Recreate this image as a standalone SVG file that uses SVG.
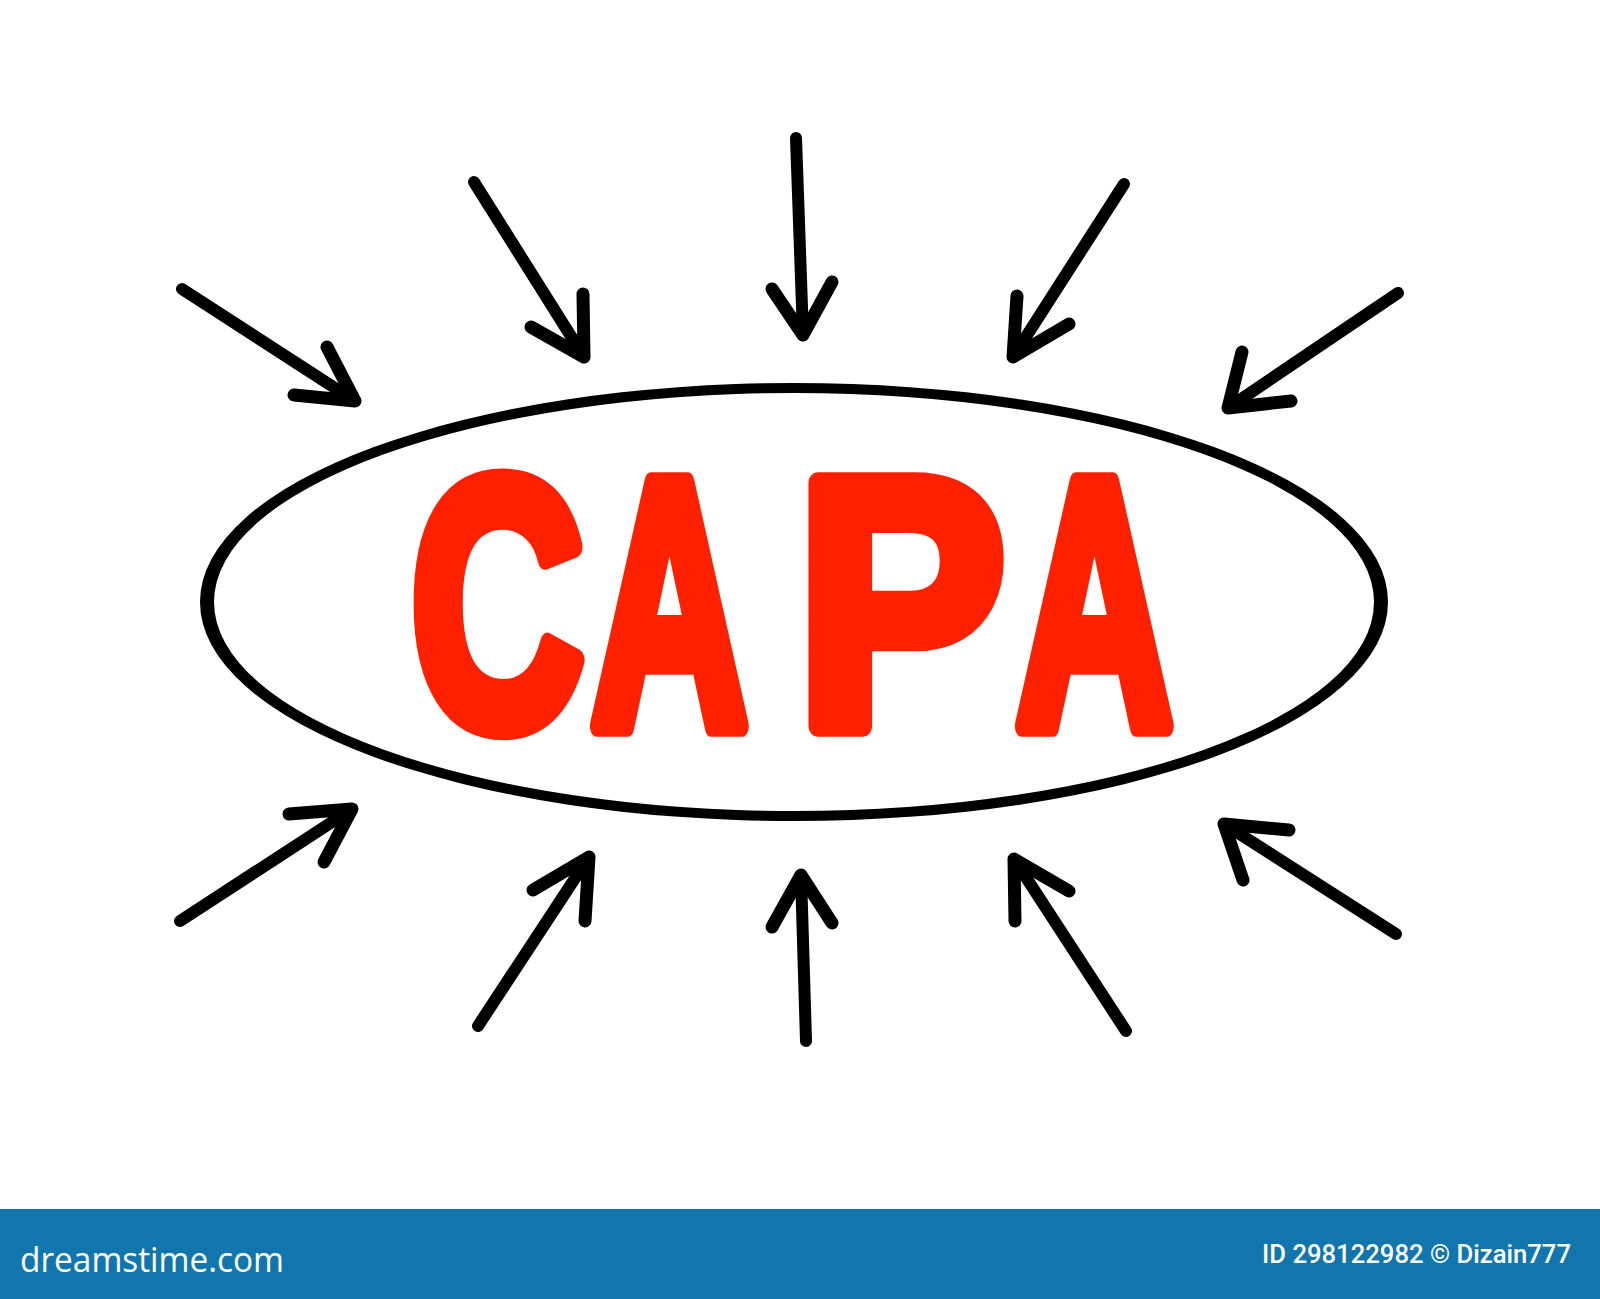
<svg xmlns="http://www.w3.org/2000/svg" width="1600" height="1299" viewBox="0 0 1600 1299">
<style>
.arr{fill:none;stroke:#000;stroke-width:12;stroke-linecap:round;stroke-linejoin:round}
.head{fill:none;stroke:#000;stroke-width:13;stroke-linecap:round;stroke-linejoin:round}
.capa{font-family:"Liberation Sans",Arial,sans-serif;font-weight:bold;fill:#FF2000;stroke:#FF2000;stroke-width:16;stroke-linejoin:round}
.foot{fill:#fff}
</style>
<rect width="1600" height="1299" fill="#fff"/>
<g id="ellipse-node">
<path fill="#000" fill-rule="evenodd" d="M200,602 A594,219 0 1,0 1388,602 A594,219 0 1,0 200,602 Z M214,602 A580,209 0 1,0 1374,602 A580,209 0 1,0 214,602 Z"/>
<text class="capa" font-size="266" transform="matrix(1 0 0 1.33 0 0)"><tspan x="411" y="546" textLength="173" lengthAdjust="spacingAndGlyphs">C</tspan><tspan x="591" y="546" textLength="157" lengthAdjust="spacingAndGlyphs">A</tspan><tspan x="797" y="546" textLength="208" lengthAdjust="spacingAndGlyphs">P</tspan><tspan x="1016" y="546" textLength="157" lengthAdjust="spacingAndGlyphs">A</tspan></text>
</g>
<g id="connectors">
<g id="a1"><path class="arr" d="M182,289 L355,401"/><path class="head" d="M294,395 L355,401 L327,347"/></g>
<g id="a2"><path class="arr" d="M474,182 L584,357"/><path class="head" d="M531,327 L584,357 L583,294"/></g>
<g id="a3"><path class="arr" d="M796,138 L803,335"/><path class="head" d="M772,289 L803,335 L832,282"/></g>
<g id="a4"><path class="arr" d="M1124,184 L1013,357"/><path class="head" d="M1017,296 L1013,357 L1069,324"/></g>
<g id="a5"><path class="arr" d="M1398,293 L1228,408"/><path class="head" d="M1242,352 L1228,408 L1291,401"/></g>
<g id="a6"><path class="arr" d="M180,921 L352,809"/><path class="head" d="M289,814 L352,809 L324,862"/></g>
<g id="a7"><path class="arr" d="M478,1026 L589,857"/><path class="head" d="M533,890 L589,857 L585,921"/></g>
<g id="a8"><path class="arr" d="M806,1041 L801,875"/><path class="head" d="M772,927 L801,875 L832,923"/></g>
<g id="a9"><path class="arr" d="M1126,1031 L1014,859"/><path class="head" d="M1015,921 L1014,859 L1069,891"/></g>
<g id="a10"><path class="arr" d="M1396,934 L1224,824"/><path class="head" d="M1243,880 L1224,824 L1289,830"/></g>
</g>
<g id="footer">
<rect x="0" y="1209" width="1600" height="90" fill="#1276AE"/>
<text class="foot" x="20" y="1272" font-family="'Open Sans','Liberation Sans',sans-serif" font-size="34" textLength="264" lengthAdjust="spacingAndGlyphs">dreamstime.com</text>
<text class="foot" x="1262" y="1263" font-family="Roboto,'Liberation Sans',sans-serif" font-weight="500" font-size="26" textLength="309" lengthAdjust="spacingAndGlyphs">ID 298122982 © Dizain777</text>
</g>
</svg>
